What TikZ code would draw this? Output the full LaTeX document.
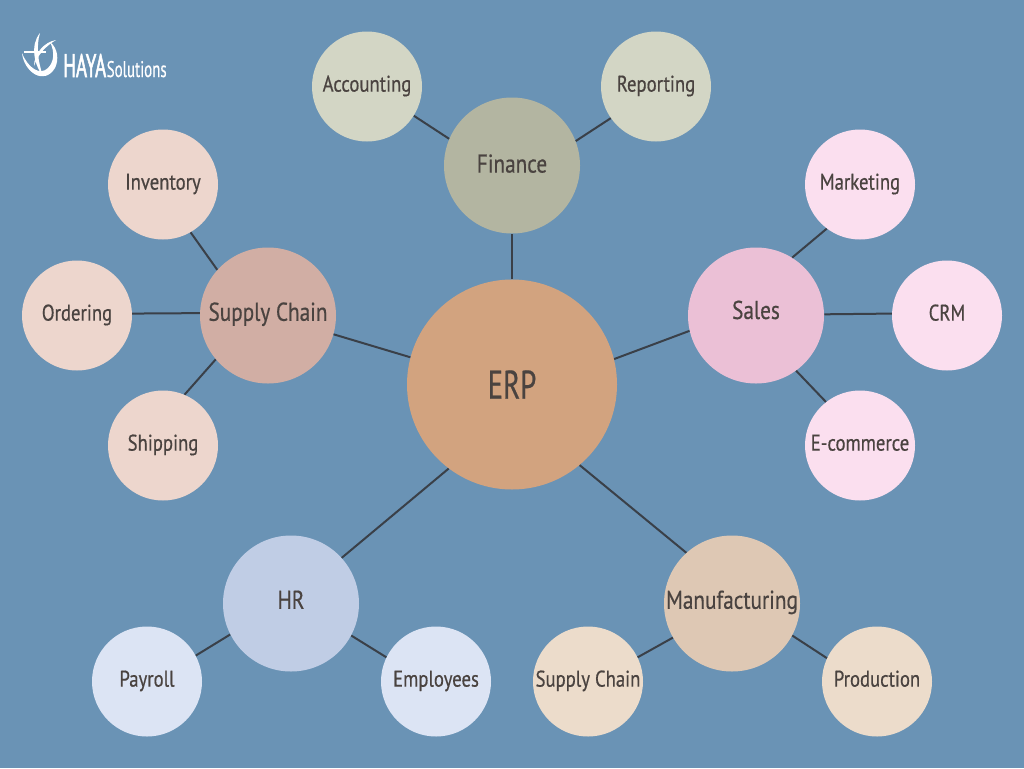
\documentclass[tikz,border=0pt]{standalone}
\usepackage{fontspec}
\setmainfont[FakeStretch=0.825,FakeBold=0.5]{PT Sans}
\newfontfamily\erpfont[FakeStretch=0.72,FakeBold=0.5]{PT Sans}
\newfontfamily\hayafont[FakeStretch=0.58,FakeBold=1.6]{PT Sans}
\newfontfamily\solfont[FakeStretch=0.66,FakeBold=0.3]{PT Sans}
\usetikzlibrary{positioning}
\definecolor{backblue}{HTML}{6A93B5}
\definecolor{labelgray}{HTML}{4A4340}
\definecolor{linegray}{HTML}{3A4048}
\definecolor{erpfill}{HTML}{D2A37F}
\definecolor{finfill}{HTML}{B3B5A1}
\definecolor{finleaf}{HTML}{D3D6C5}
\definecolor{supfill}{HTML}{D1AEA4}
\definecolor{supleaf}{HTML}{EDD6CD}
\definecolor{salfill}{HTML}{EBC0D6}
\definecolor{salleaf}{HTML}{FBDFEF}
\definecolor{hrfill}{HTML}{C0CDE5}
\definecolor{hrleaf}{HTML}{DCE4F4}
\definecolor{manfill}{HTML}{DEC8B4}
\definecolor{manleaf}{HTML}{ECDCCB}
\tikzset{line/.style={draw=linegray, line width=1.5pt}}
\begin{document}
\begin{tikzpicture}[
	x=0.75pt,y=-0.75pt,
	on grid,
	hub/.style={
		circle,
		minimum size=102pt,
		inner sep=0pt,
		text=labelgray,
		text height=0.895em,
		text depth=0.105em,
		font=\fontsize{19.3}{20}\selectfont,
	},
	leaf/.style={
		circle,
		minimum size=82.5pt,
		inner sep=0pt,
		text=labelgray,
		text height=0.883em,
		text depth=0.117em,
		font=\fontsize{17}{18}\selectfont,
	},
	center/.style={
		circle,
		minimum size=157.5pt,
		inner sep=0pt,
		text=labelgray,
		font=\erpfont\fontsize{30}{30}\selectfont,
	},
	logotext/.style={
		inner sep=0pt,
		anchor=base west,
		text=white,
	},
]
	\fill [backblue] (0,0) rectangle (1024,768);
	\useasboundingbox (0,0) rectangle (1024,768);

	\node (erp) [center,fill=erpfill] at (512,384.5) {ERP};

	\node (finance) [hub,fill=finfill,text height=1.06em,text depth=0em,above=164.25pt of erp] {Finance};
	\node (accounting) [leaf,fill=finleaf,above left=59.25pt and 108.75pt of finance] {Accounting};
	\node (reporting) [leaf,fill=finleaf,above right=59.25pt and 108pt of finance] {Reporting};

	\node (supply) [hub,fill=supfill,above left=51.75pt and 183pt of erp] {Supply Chain};
	\node (inventory) [leaf,fill=supleaf,above left=98.25pt and 78.75pt of supply] {Inventory};
	\node (ordering) [leaf,fill=supleaf,left=143.25pt of supply] {Ordering};
	\node (shipping) [leaf,fill=supleaf,below left=97.5pt and 78.75pt of supply] {Shipping};

	\node (sales) [hub,fill=salfill,text height=0.76em,text depth=0.24em,above right=51.75pt and 183pt of erp] {Sales};
	\node (marketing) [leaf,fill=salleaf,above right=98.25pt and 78pt of sales] {Marketing};
	\node (crm) [leaf,fill=salleaf,right=143.25pt of sales] {CRM};
	\node (ecommerce) [leaf,fill=salleaf,below right=97.5pt and 78pt of sales] {E-commerce};

	\node (hr) [hub,fill=hrfill,below left=164.25pt and 165.75pt of erp] {HR};
	\node (payroll) [leaf,fill=hrleaf,below left=58.5pt and 108pt of hr] {Payroll};
	\node (employees) [leaf,fill=hrleaf,below right=58.5pt and 108.75pt of hr] {Employees};

	\node (manufacturing) [hub,fill=manfill,below right=164.25pt and 165pt of erp] {Manufacturing};
	\node (chain) [leaf,fill=manleaf,below left=58.5pt and 108pt of manufacturing] {Supply Chain};
	\node (production) [leaf,fill=manleaf,below right=58.5pt and 108.75pt of manufacturing] {Production};

	\draw [line] (erp) -- (finance);
	\draw [line] (erp.165.7) -- (supply.-16);
	\draw [line] (erp.14.3) -- (sales.193.6);
	\draw [line] (erp.233) -- (hr.42);
	\draw [line] (erp.-50.7) -- (manufacturing.132.6);
	\draw [line] (finance.157) -- (accounting.-32);
	\draw [line] (finance.21.6) -- (reporting.215);
	\draw [line] (supply.138) -- (inventory.-60);
	\draw [line] (supply.178.3) -- (ordering.2);
	\draw [line] (supply.220) -- (shipping.67);
	\draw [line] (sales.58) -- (marketing.233);
	\draw [line] (sales.1.7) -- (crm.178);
	\draw [line] (sales.-54) -- (ecommerce.128);
	\draw [line] (hr.207) -- (payroll.28);
	\draw [line] (hr.-28) -- (employees.154);
	\draw [line] (manufacturing.210) -- (chain.26);
	\draw [line] (manufacturing.-28) -- (production.155);

	% logo
	\fill [white] (22,53) .. controls (24,72) and (44,86) .. (55,68) .. controls (59,60) and (58,48) .. (50,42) .. controls (55,52) and (54,62) .. (48,68) .. controls (40,76) and (28,68) .. (22,53) -- cycle;
	\fill [white] (40,33) .. controls (30,45) and (34,65) .. (43,76) .. controls (38,62) and (36,46) .. (40,33) -- cycle;
	\fill [white] (56,40) .. controls (44,42) and (34,54) .. (34,66) .. controls (38,54) and (46,46) .. (56,40) -- cycle;
	\fill [white] (24,51) -- (46,51) -- (46,52.5) -- (24,52.5) -- cycle;
	\node (haya) [logotext,font=\hayafont\fontsize{24.5}{24}\selectfont] at (63,77) {HAYA};
	\node (solutions) [logotext,font=\solfont\fontsize{17}{17}\selectfont,right=0pt of haya.base east,anchor=base west] {Solutions};
\end{tikzpicture}
\end{document}
